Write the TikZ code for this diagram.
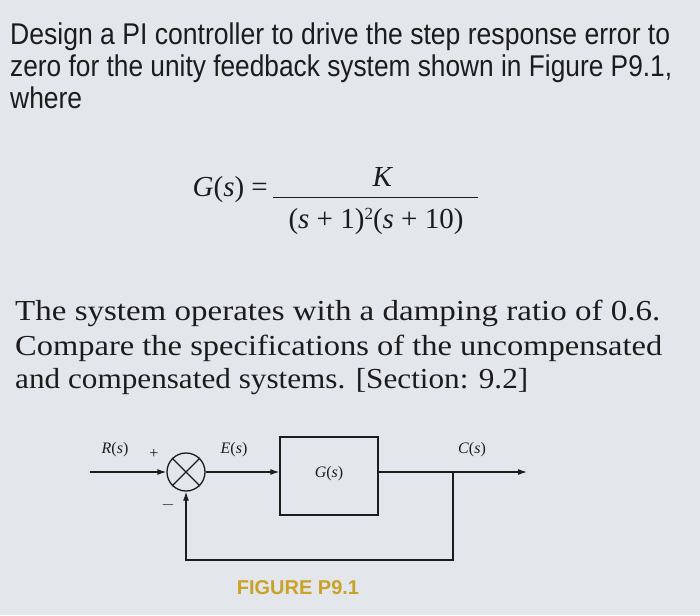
\documentclass[tikz,border=0pt]{standalone}
\usepackage{fontspec}
\usepackage{graphicx}
\setmainfont{Liberation Serif}
\newfontfamily\hd{Liberation Sans}
\usetikzlibrary{arrows.meta}
\definecolor{bg}{HTML}{E3E7EC}
\definecolor{ink}{HTML}{1C1C1C}
\definecolor{fig}{HTML}{C9A227}
\newcommand\fitw[2]{\resizebox{#1}{\height}{#2}}
\newcommand\iv[1]{\textit{#1}}
\begin{document}
\begin{tikzpicture}[x=1pt,y=-1pt,
  hline/.style={anchor=base west,inner sep=0pt,font=\hd\fontsize{30}{32}\selectfont,text=ink},
  pline/.style={anchor=base west,inner sep=0pt,font=\fontsize{29}{30}\selectfont,text=ink},
  lbl/.style={font=\fontsize{16}{18}\selectfont,text=ink,inner sep=1pt},
  wire/.style={draw=ink,line width=1.3pt},
  arr/.style={wire,-{Latex[length=9pt,width=6pt]}}]
\fill[bg] (0,0) rectangle (700,615);
\useasboundingbox (0,0) rectangle (700,615);
% heading
\node[hline] (h1) at (10,45) {\fitw{660pt}{Design a PI controller to drive the step response error to}};
\node[hline] (h2) at (10,77) {\fitw{662pt}{zero for the unity feedback system shown in Figure P9.1,}};
\node[hline] (h3) at (10,108) {\fitw{72pt}{where}};
% formula
\node[pline,anchor=base east] (g) at (268,196) {\iv{G}(\iv{s}) =};
\draw[draw=ink,line width=1pt] (273,197) -- (478,197);
\node[pline,anchor=base] (k) at (383,186) {\iv{K}};
\node[pline,anchor=base] (den) at (376,228) {(\iv{s} + 1)\raisebox{9pt}{\fontsize{17}{18}\selectfont 2}(\iv{s} + 10)};
% paragraph
\node[pline] (p1) at (15,320) {\fitw{645pt}{The system operates with a damping ratio of 0.6.}};
\node[pline] (p2) at (15,355) {\fitw{647pt}{Compare the specifications of the uncompensated}};
\node[pline] (p3) at (15,388) {\fitw{513pt}{and compensated systems. [Section: 9.2]}};
% block diagram
\coordinate (in) at (90,472);
\node[circle,draw=ink,line width=1.3pt,minimum size=38pt,inner sep=0pt] (sum) at (186,472) {};
\draw[wire] (sum.north east) -- (sum.south west) (sum.north west) -- (sum.south east);
\node[draw=ink,line width=1.3pt,minimum width=98pt,minimum height=78pt,inner sep=0pt] (G) at (329,476) {};
\node[lbl] (gl) at (329,474) {\iv{G}(\iv{s})};
\coordinate (br) at (453,472);
\coordinate (out) at (527,472);
\coordinate (fb1) at (453,560);
\coordinate (fb2) at (186,560);
\draw[arr] (in) -- (sum.west);
\draw[arr] (sum.east) -- (G.west |- sum.east);
\draw[arr] (G.east |- br) -- (out);
\draw[arr] (br) -- (fb1) -- (fb2) -- (sum.south);
\node[lbl] (rl) at (115,450) {\iv{R}(\iv{s})};
\node[lbl] (pl) at (154,454) {+};
\node[lbl] (el) at (234,450) {\iv{E}(\iv{s})};
\node[lbl] (cl) at (472,450) {\iv{C}(\iv{s})};
\node[lbl,font=\fontsize{18}{18}\selectfont] (ml) at (168,505) {$-$};
\node[font=\hd\bfseries\fontsize{20}{22}\selectfont,text=fig] (ft) at (298,588) {FIGURE P9.1};
\end{tikzpicture}
\end{document}
